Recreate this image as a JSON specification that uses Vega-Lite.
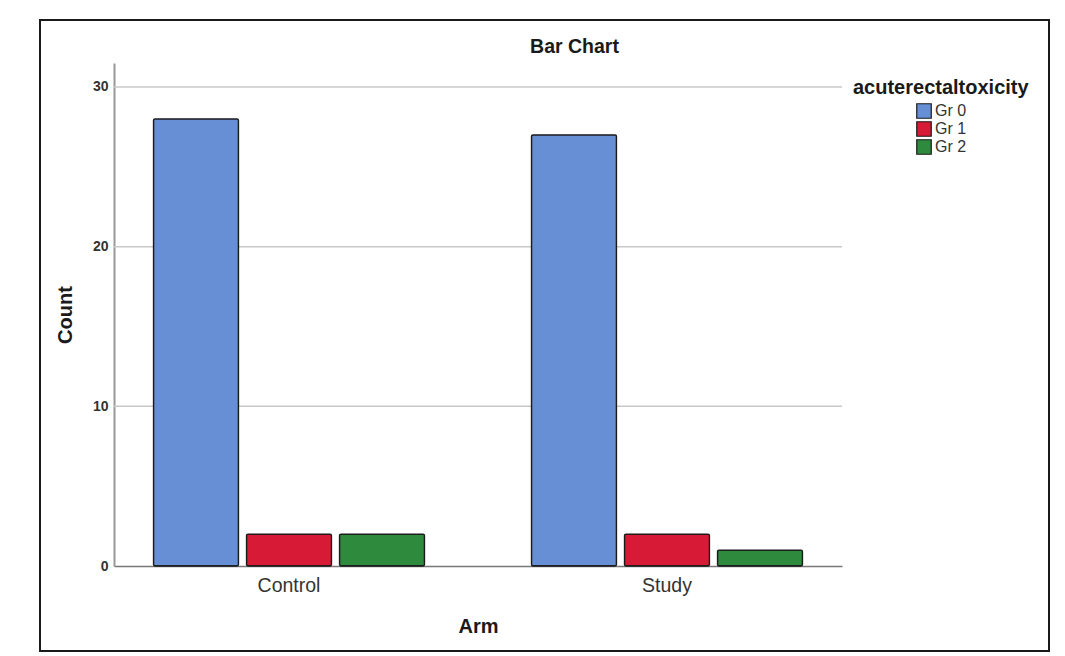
{
  "$schema": "https://vega.github.io/schema/vega-lite/v6.json",
  "width": 1009,
  "height": 631,
  "autosize": {"type": "none"},
  "padding": {"left": 40, "top": 20, "right": 16, "bottom": 5},
  "background": "white",
  "config": {
    "font": "Liberation Sans",
    "view": {"stroke": "#1a1a1a", "strokeWidth": 2}
  },
  "title": {
    "text": "Bar Chart",
    "fontSize": 19.5,
    "fontWeight": "bold",
    "color": "#1a1a1a",
    "anchor": "middle",
    "frame": "group",
    "baseline": "alphabetic",
    "offset": 0,
    "dy": 52,
    "dx": 30
  },
  "datasets": {
    "bars": [
      {"Arm": "Control", "grade": "Gr 0", "count": 28},
      {"Arm": "Control", "grade": "Gr 1", "count": 2},
      {"Arm": "Control", "grade": "Gr 2", "count": 2},
      {"Arm": "Study", "grade": "Gr 0", "count": 27},
      {"Arm": "Study", "grade": "Gr 1", "count": 2},
      {"Arm": "Study", "grade": "Gr 2", "count": 1}
    ],
    "grid": [{"count": 10}, {"count": 20}, {"count": 30}]
  },
  "layer": [
    {
      "data": {"name": "grid"},
      "mark": {"type": "rule", "color": "#c8c8c8", "strokeWidth": 1.5},
      "encoding": {
        "y": {"field": "count", "type": "quantitative", "scale": {"domain": [0, 31.5], "range": [546, 43], "nice": false, "zero": true}},
        "x": {"datum": 0, "type": "quantitative", "scale": {"domain": [0, 1], "range": [74, 802]}, "axis": null},
        "x2": {"datum": 1}
      }
    },
    {
      "data": {"name": "bars"},
      "mark": {"type": "bar", "stroke": "#1a1a1a", "strokeWidth": 1.3, "cornerRadius": 1.5},
      "encoding": {
        "x": {
          "field": "Arm",
          "type": "nominal",
          "scale": {"range": [74, 802], "paddingInner": 0.283, "paddingOuter": 0.1045},
          "axis": {
            "title": "Arm",
            "orient": "bottom",
            "offset": -85,
            "labelAngle": 0,
            "ticks": false,
            "domainColor": "#777777",
            "domainWidth": 1.5,
            "labelFontSize": 19.5,
            "labelColor": "#333333",
            "labelPadding": 10,
            "titleFontSize": 20,
            "titleFontWeight": "bold",
            "titleColor": "#1a1a1a",
            "titlePadding": 22
          }
        },
        "xOffset": {
          "field": "grade",
          "type": "nominal",
          "scale": {"paddingInner": 0.086, "paddingOuter": 0}
        },
        "y": {
          "field": "count",
          "type": "quantitative",
          "scale": {"domain": [0, 31.5], "range": [546, 43], "nice": false, "zero": true},
          "axis": {
            "title": "Count",
            "offset": -74,
            "values": [0, 10, 20, 30],
            "grid": false,
            "ticks": false,
            "domainColor": "#999999",
            "domainWidth": 2,
            "labelFontSize": 14,
            "labelFontWeight": "bold",
            "labelColor": "#333333",
            "labelPadding": 6,
            "titleFontSize": 20,
            "titleFontWeight": "bold",
            "titleColor": "#1a1a1a",
            "titlePadding": 17
          }
        },
        "color": {
          "field": "grade",
          "type": "nominal",
          "scale": {"domain": ["Gr 0", "Gr 1", "Gr 2"], "range": ["#668fd6", "#d71a35", "#2e8a3c"]},
          "legend": {
            "title": "acuterectaltoxicity",
            "orient": "none",
            "legendX": 813,
            "legendY": 58,
            "titleFontSize": 20,
            "titleFontWeight": "bold",
            "titleColor": "#1a1a1a",
            "titlePadding": 5,
            "symbolType": "square",
            "symbolSize": 210,
            "symbolStrokeColor": "#1a1a1a",
            "symbolStrokeWidth": 1.2,
            "symbolOpacity": 1,
            "symbolOffset": 63,
            "labelOffset": 3,
            "labelFontSize": 16,
            "labelColor": "#333333",
            "rowPadding": -2
          }
        }
      }
    }
  ],
  "resolve": {"scale": {"x": "independent"}}
}
